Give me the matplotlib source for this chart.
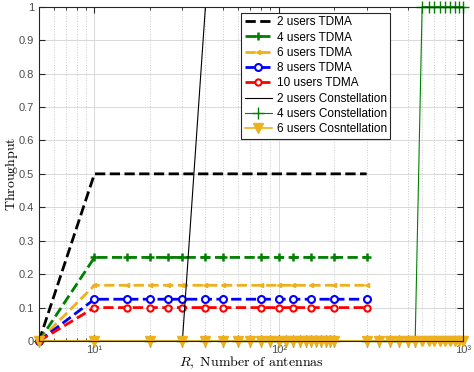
import numpy as np
import matplotlib
matplotlib.use("Agg")
import matplotlib.pyplot as plt
from matplotlib.ticker import LogLocator, NullFormatter, FixedLocator

# ---- data ----
R_tdma = [5, 10, 15, 20, 25, 30, 40, 50, 80, 100, 120, 150, 200, 300]
tdma_2 = [0] + [0.5] * 13
tdma_4 = [0] + [0.25] * 13
tdma_6 = [0] + [1 / 6] * 13
tdma_8 = [0] + [0.125] * 13
tdma_10 = [0] + [0.1] * 13

R_const = [5, 10, 20, 30, 40, 50, 60, 70, 80, 90, 100, 110, 120, 130, 140, 150,
           160, 170, 180, 190, 200, 300, 350, 400, 450, 500, 550, 600, 650, 700,
           750, 800, 850, 900, 950, 1000]
const_2 = [0, 0, 0, 0] + [1] * 32
const_4 = [0] * 27 + [1] * 9
const_6 = [0] * 36

labels = ["2 users TDMA", "4 users TDMA", "6 users TDMA", "8 users TDMA",
          "10 users TDMA", "2 users Constellation", "4 users Constellation",
          "6 users Cosntellation"]
xtick_vals = [10, 100, 1000]
xtick_labels = ['10\u00b9', '10\u00b2', '10\u00b3']
ytick_labels = ['0', '0.1', '0.2', '0.3', '0.4', '0.5', '0.6', '0.7', '0.8', '0.9', '1']

plt.rcParams['mathtext.fontset'] = 'cm'
plt.rcParams['font.family'] = ['Liberation Sans', 'DejaVu Sans']

fig = plt.figure(figsize=(4.74, 3.72), dpi=100)
ax = fig.add_axes([0.0823, 0.0833, 0.8945, 0.8987])

yel = (0.929, 0.694, 0.125)
grn = (0.0, 0.5, 0.0)

common = dict(clip_on=False)
ax.plot(R_tdma, tdma_2, '--', color='k', lw=2.0, label=labels[0], **common)
ax.plot(R_tdma, tdma_4, '--', color=grn, lw=2.0, marker='+', ms=6, mew=1.8, label=labels[1], **common)
ax.plot(R_tdma, tdma_6, '--', color=yel, lw=2.0, marker='<', ms=3, label=labels[2], **common)
ax.plot(R_tdma, tdma_8, '--', color='b', lw=2.0, marker='o', ms=5, mfc='white', mew=1.5, label=labels[3], **common)
ax.plot(R_tdma, tdma_10, '--', color='r', lw=2.0, marker='o', ms=4.5, mfc='white', mew=1.5, label=labels[4], **common)
ax.plot(R_const, const_2, '-', color='k', lw=0.8, label=labels[5])
ax.plot(R_const, const_4, '-', color=grn, lw=0.8, marker='+', ms=9, mew=1.0, label=labels[6], **common)
ax.plot(R_const, const_6, '-', color=yel, lw=1.2, marker='v', ms=6.5, label=labels[7], **common)

ax.set_xscale('log')
ax.set_xlim(5, 1000)
ax.set_ylim(0, 1)
ax.set_yticks(np.arange(0, 1.01, 0.1))
ax.set_yticklabels(ytick_labels)
ax.xaxis.set_major_locator(FixedLocator(xtick_vals))
ax.set_xticklabels(xtick_labels)
ax.xaxis.set_minor_locator(LogLocator(base=10, subs=np.arange(2, 10)))
ax.xaxis.set_minor_formatter(NullFormatter())

ax.grid(True, which='major', color=(0.85, 0.85, 0.85), lw=0.7, ls='-')
ax.grid(True, which='minor', axis='x', color=(0.8, 0.8, 0.8), lw=0.7, ls=':')
ax.set_axisbelow(True)

ax.tick_params(which='both', direction='in', top=True, right=True,
               colors=(0.15, 0.15, 0.15), labelcolor=(0.3, 0.3, 0.3), labelsize=8)
ax.tick_params(which='major', length=4)
ax.tick_params(which='minor', length=2)
ax.tick_params(axis='x', pad=3)
for s in ax.spines.values():
    s.set_color((0.15, 0.15, 0.15))
    s.set_linewidth(0.8)

ax.set_xlabel(r'$R\mathrm{,\ Number\ of\ antennas}$', fontsize=10, labelpad=0)
ax.set_ylabel(r'$\mathrm{Throughput}$', fontsize=10, labelpad=-1)

leg = ax.legend(loc='upper left', bbox_to_anchor=(0.477, 0.982), fontsize=8.5,
                frameon=True, fancybox=False, edgecolor=(0.15, 0.15, 0.15),
                framealpha=1, handlelength=2.3, handletextpad=0.4,
                labelspacing=0.28, borderpad=0.3, borderaxespad=0)
leg.get_frame().set_linewidth(0.8)

fig.savefig('out.png', dpi=100)
